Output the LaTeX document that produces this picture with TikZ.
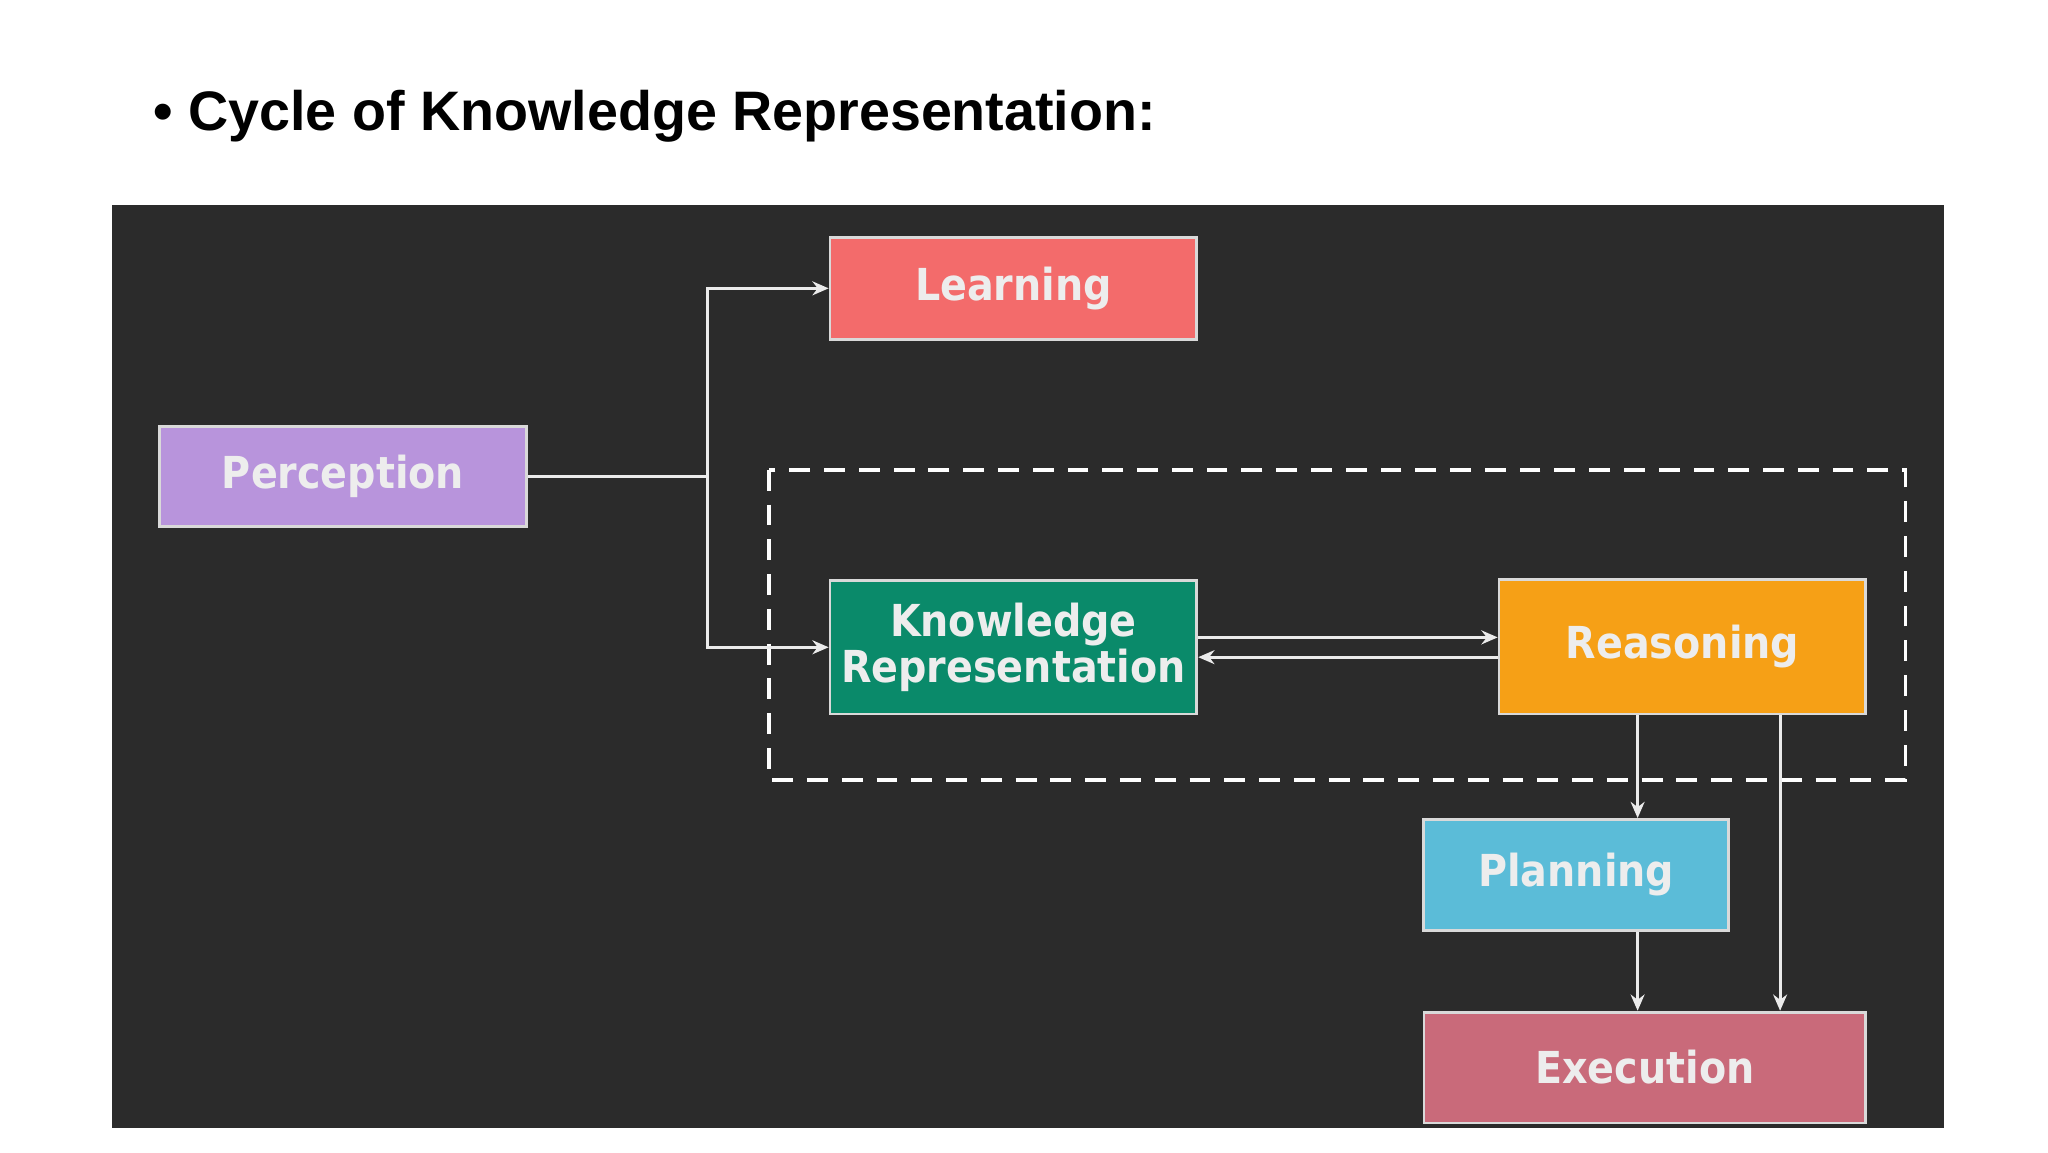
\documentclass[tikz,border=0pt]{standalone}
\usepackage{fontspec}
\setmainfont{Liberation Sans}
\newfontfamily\lab{DejaVu Sans Condensed}
\usetikzlibrary{arrows.meta,calc}
\definecolor{bgdark}{HTML}{2B2B2B}
\definecolor{cperc}{HTML}{B894DC}
\definecolor{clearn}{HTML}{F36B6B}
\definecolor{ckr}{HTML}{0A8A6A}
\definecolor{creas}{HTML}{F6A016}
\definecolor{cplan}{HTML}{5BBCD8}
\definecolor{cexec}{HTML}{C96A7A}
\tikzset{
  box/.style={draw=white!85!black, line width=1.2pt, inner sep=0pt, align=center,
    text=white!93!black, font=\lab\bfseries\fontsize{19}{22}\selectfont},
  conn/.style={draw=white!92!black, line width=1.4pt},
  arr/.style={conn, -{Stealth[length=7pt,width=6pt]}}
}
\begin{document}
\begin{tikzpicture}[x=0.02cm,y=-0.02cm]
\fill[white] (0,0) rectangle (1552,873);
\useasboundingbox (0,0) rectangle (1552,873);
\node[anchor=west, font=\bfseries\fontsize{24}{28}\selectfont] (title) at (110,88) {\textbullet\ Cycle of Knowledge Representation:};
\fill[bgdark] (85,155) rectangle (1473,855);
\node[box, fill=cperc, minimum width=5.56cm, minimum height=1.52cm] (perc) at (260,361) {Perception};
\node[box, fill=clearn, minimum width=5.56cm, minimum height=1.54cm] (learn) at (768,218.5) {Learning};
\node[box, fill=ckr, minimum width=5.56cm, minimum height=2.02cm] (kr) at (768,490.5) {Knowledge\\[-2pt]Representation};
\node[box, fill=creas, minimum width=5.56cm, minimum height=2.04cm] (reas) at (1275,490) {Reasoning};
\node[box, fill=cplan, minimum width=4.62cm, minimum height=1.68cm] (plan) at (1194.5,663) {Planning};
\node[box, fill=cexec, minimum width=6.7cm, minimum height=1.68cm] (exec) at (1246.5,809) {Execution};
\draw[white, line width=1.6pt, dash pattern=on 9pt off 6pt] (583,356) rectangle (1444,591);
\coordinate (j) at (536,361);
\draw[conn] (perc.east) -- (j);
\draw[arr] (j) |- (learn.west);
\draw[arr] (j) |- (kr.west);
\draw[arr] ([yshift=0.15cm]kr.east) -- ([yshift=0.15cm]kr.east -| reas.west);
\draw[arr] ([yshift=-0.15cm]kr.east -| reas.west) -- ([yshift=-0.15cm]kr.east);
\draw[arr] ([xshift=-0.68cm]reas.south) -- ([xshift=-0.68cm]reas.south |- plan.north);
\draw[arr] ([xshift=1.48cm]reas.south) -- ([xshift=1.48cm]reas.south |- exec.north);
\draw[arr] ([xshift=0.93cm]plan.south) -- ([xshift=0.93cm]plan.south |- exec.north);
\end{tikzpicture}
\end{document}
